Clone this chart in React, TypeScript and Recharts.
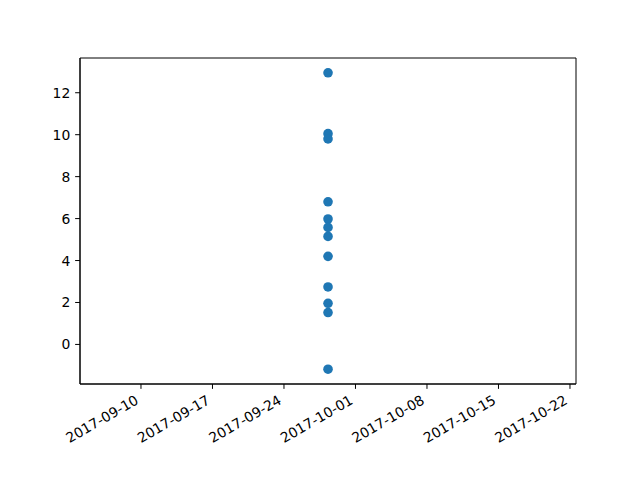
import React from 'react';
import { ScatterChart, Scatter, XAxis, YAxis, ReferenceArea } from 'recharts';

const pointDates = [
  '2017-09-28T07:30:00Z', '2017-09-28T07:30:00Z', '2017-09-28T07:30:00Z', '2017-09-28T07:30:00Z',
  '2017-09-28T07:30:00Z', '2017-09-28T07:30:00Z', '2017-09-28T07:30:00Z', '2017-09-28T07:30:00Z',
  '2017-09-28T07:30:00Z', '2017-09-28T07:30:00Z', '2017-09-28T07:30:00Z', '2017-09-28T07:30:00Z',
];
const pointValues = [12.95, 10.05, 9.8, 6.8, 5.98, 5.58, 5.15, 4.2, 2.74, 1.96, 1.52, -1.18];

const xTickDates = ['2017-09-10', '2017-09-17', '2017-09-24', '2017-10-01', '2017-10-08', '2017-10-15', '2017-10-22'];
const yTickValues = [0, 2, 4, 6, 8, 10, 12];
const xDomainDates = ['2017-09-04T00:43:00Z', '2017-10-22T14:10:00Z'];

const toMs = (s: string) => new Date(s.length === 10 ? s + 'T00:00:00Z' : s).getTime();

const data = pointDates.map((d, i) => ({ t: toMs(d), v: pointValues[i] }));
const xTicks = xTickDates.map(toMs);
const xDomain = xDomainDates.map(toMs);
const vMin = Math.min(...pointValues);
const vMax = Math.max(...pointValues);
const vPad = (vMax - vMin) * 0.05;
const yDomain = [vMin - vPad, vMax + vPad];

const FONT = 'DejaVu Sans';
const FS = 13.9;

const fmtDate = (ms: number) => {
  const d = new Date(ms);
  const mm = String(d.getUTCMonth() + 1).padStart(2, '0');
  const dd = String(d.getUTCDate()).padStart(2, '0');
  return `${d.getUTCFullYear()}-${mm}-${dd}`;
};

const XTick = (props: any) => {
  const { x, payload } = props;
  const px = x - 1.5;
  const py = 403;
  return (
    <text
      x={px}
      y={py}
      textAnchor="end"
      fontFamily={FONT}
      fontSize={FS}
      fill="#000"
      transform={`rotate(-30 ${px} ${py})`}
    >
      {fmtDate(payload.value)}
    </text>
  );
};

const YTick = (props: any) => {
  const { y, payload } = props;
  return (
    <text x={70.3} y={y} dy="0.36em" textAnchor="end" fontFamily={FONT} fontSize={FS} fill="#000">
      {String(payload.value)}
    </text>
  );
};

const Dot = (props: any) => <circle cx={props.cx} cy={props.cy} r={4.8} fill="#1f77b4" />;

export default function App() {
  return (
    <div style={{ position: 'absolute', left: 0, top: 0, width: 640, height: 480, background: '#fff' }}>
      <ScatterChart width={640} height={480} margin={{ top: 58, right: 64, left: 0, bottom: 0 }}>
        <XAxis
          dataKey="t"
          type="number"
          domain={xDomain}
          ticks={xTicks}
          interval={0}
          allowDataOverflow
          height={96}
          tickSize={4.86}
          tickMargin={4.86}
          tick={<XTick />}
          axisLine={{ stroke: '#000', strokeWidth: 1 }}
          tickLine={{ stroke: '#000', strokeWidth: 1 }}
        />
        <YAxis
          dataKey="v"
          type="number"
          domain={yDomain}
          ticks={yTickValues}
          interval={0}
          allowDataOverflow
          width={80}
          tickSize={4.86}
          tickMargin={4.86}
          tick={<YTick />}
          axisLine={{ stroke: '#000', strokeWidth: 1 }}
          tickLine={{ stroke: '#000', strokeWidth: 1 }}
        />
        <ReferenceArea
          x1={xDomain[0]}
          x2={xDomain[1]}
          y1={yDomain[0]}
          y2={yDomain[1]}
          fill="none"
          stroke="#000"
          strokeWidth={1}
          ifOverflow="visible"
        />
        <Scatter data={data} fill="#1f77b4" shape={<Dot />} isAnimationActive={false} />
      </ScatterChart>
    </div>
  );
}
